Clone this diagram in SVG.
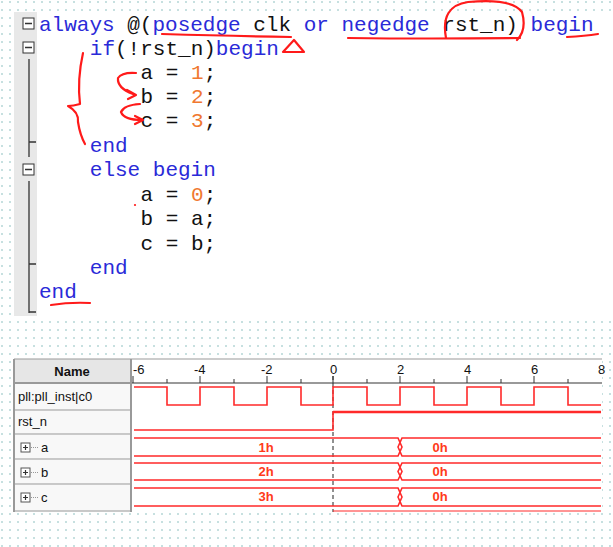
<svg xmlns="http://www.w3.org/2000/svg" width="613" height="547" viewBox="0 0 613 547">
<defs>
<pattern id="dots" width="8" height="8" patternUnits="userSpaceOnUse"><circle cx="2" cy="2" r="0.8" fill="#7fb8b8"/></pattern>
<style>
.code{font-family:"Liberation Mono",monospace;font-size:21px}
.kw{fill:#2a2ad8}.bk{fill:#111}.num{fill:#f07830}
.ann{fill:none;stroke:#ff1a1a;stroke-width:2.2;stroke-linecap:round;stroke-linejoin:round}
.wv{fill:none;stroke:#ff2a2a;stroke-width:1.6}
.lbl{font-family:"Liberation Sans",Arial,sans-serif;font-size:13px;fill:#111}
.val{font-family:"Liberation Sans",Arial,sans-serif;font-size:13px;font-weight:bold;fill:#ff3a1a;text-anchor:middle}
.grid{stroke:#999;stroke-width:1}
.fold{stroke:#333;stroke-width:1.3}
</style>
</defs>
<rect width="613" height="547" fill="#fff"/>
<rect width="613" height="547" fill="url(#dots)"/>
<g id="code">
<rect x="14" y="12" width="599" height="304" fill="#fff"/>
<rect x="14" y="12" width="23" height="304" fill="#e8e8e8"/>
<g fill="#fff" stroke="#333" stroke-width="1">
<rect x="23" y="18" width="11" height="11"/><rect x="23" y="42" width="11" height="11"/><rect x="23" y="164" width="11" height="11"/>
</g>
<g class="fold">
<path d="M25 23.5h7M25 47.5h7M25 169.5h7"/>
<path d="M29 59V157M29 142H36"/>
<path d="M29 181V313M29 264H36M29 312H36"/>
</g>
<text class="code" x="39" y="31" xml:space="preserve"><tspan class="kw">always</tspan><tspan class="bk"> @(</tspan><tspan class="kw">posedge</tspan><tspan class="bk"> clk </tspan><tspan class="kw">or negedge</tspan><tspan class="bk"> rst_n) </tspan><tspan class="kw">begin</tspan></text>
<text class="code" x="89.8" y="55" xml:space="preserve"><tspan class="kw">if</tspan><tspan class="bk">(!rst_n)</tspan><tspan class="kw">begin</tspan></text>
<text class="code bk" x="140.6" y="79">a = <tspan class="num">1</tspan>;</text>
<text class="code bk" x="140.6" y="103">b = <tspan class="num">2</tspan>;</text>
<text class="code bk" x="140.6" y="127">c = <tspan class="num">3</tspan>;</text>
<text class="code kw" x="89.8" y="152">end</text>
<text class="code kw" x="89.8" y="176">else begin</text>
<text class="code bk" x="140.6" y="201">a = <tspan class="num">0</tspan>;</text>
<text class="code bk" x="140.6" y="225">b = a;</text>
<text class="code bk" x="140.6" y="250">c = b;</text>
<text class="code kw" x="89.8" y="274">end</text>
<text class="code kw" x="39" y="298">end</text>
</g>
<g id="annotations">
<path class="ann" d="M162 34 Q230 36 291 37"/>
<path class="ann" d="M348 38 Q430 39 520 38"/>
<path class="ann" d="M567 37 Q585 36 598 34"/>
<path class="ann" d="M446 38 Q440 6 468 2 Q512 -2 522 12 Q527 30 517 40"/>
<path class="ann" d="M283 52 L294 40 L304 52 Z"/>
<path class="ann" d="M83 53 Q77 80 80 104 Q73 106 68 106 Q79 112 78 122 Q80 135 85 144"/>
<path class="ann" d="M136 73 Q122 72 118 78 Q117 88 133 94 M127 90 L136 95 L128 99"/>
<path class="ann" d="M140 104 Q124 105 121 112 Q124 120 142 120 M135 116 L143 120 L135 124"/>
<circle cx="135" cy="205" r="1.1" fill="#ff1a1a"/>
<path class="ann" d="M51 305 Q70 302 90 303"/>
</g>
<g id="waveform">
<rect x="14" y="359" width="588" height="153" fill="#fff"/>
<rect x="14" y="359" width="117" height="153" fill="#f8f8f8"/>
<rect x="14" y="359" width="117" height="24" fill="#e6e6e6"/>
<g class="grid">
<line x1="14" y1="359" x2="602" y2="359"/>
<line x1="14" y1="359" x2="14" y2="512" stroke-width="2"/>
<line x1="131" y1="359" x2="131" y2="512" stroke-width="2"/>
<line x1="14" y1="383" x2="602" y2="383" stroke-width="2"/>
<line x1="14" y1="410" x2="131" y2="410"/><line x1="14" y1="434" x2="131" y2="434"/>
<line x1="14" y1="459" x2="131" y2="459"/><line x1="14" y1="484" x2="131" y2="484"/>
<line x1="14" y1="511" x2="131" y2="511"/>
</g>
<text class="lbl" x="72" y="376" text-anchor="middle" font-weight="bold">Name</text>
<text class="lbl" x="18" y="401" font-size="12.5">pll:pll_inst|c0</text>
<text class="lbl" x="18" y="426">rst_n</text>
<g fill="#fff" stroke="#555"><rect x="21" y="443" width="9" height="9"/><rect x="21" y="468" width="9" height="9"/><rect x="21" y="493" width="9" height="9"/></g>
<g stroke="#333" stroke-width="1.2"><path d="M23 447.5h5M25.5 445v5M23 472.5h5M25.5 470v5M23 497.5h5M25.5 495v5"/></g>
<g stroke="#999" stroke-dasharray="1,1"><path d="M31 447.5h8M31 472.5h8M31 497.5h8"/></g>
<text class="lbl" x="41" y="452">a</text><text class="lbl" x="41" y="477">b</text><text class="lbl" x="41" y="502">c</text>
<g class="lbl" font-size="13">
<text x="133" y="374">-6</text><text x="194" y="374">-4</text><text x="261" y="374">-2</text><text x="330" y="374">0</text><text x="397" y="374">2</text><text x="464" y="374">4</text><text x="531" y="374">6</text><text x="598" y="374">8</text>
</g>
<g stroke="#333" stroke-width="1"><path d="M133 376v7M167 379v4M200 376v7M234 379v4M267 376v7M301 379v4M333 376v7M367 379v4M400 376v7M434 379v4M467 376v7M501 379v4M534 376v7M568 379v4"/></g>
<line x1="333" y1="376" x2="333" y2="512" stroke="#222" stroke-dasharray="4,3"/>
<path class="wv" d="M134 387H167V405H200V387H234V405H267V387H301V405H333V387H367V405H400V387H434V405H467V387H501V405H534V387H568V405H601"/>
<path class="wv" d="M134 430H333V412H601"/>
<line x1="333" y1="412" x2="601" y2="412" stroke="#ff2a2a" stroke-width="2.6"/>
<path class="wv" d="M134 438H398L402 447L398 456H134M601 438H402L398 447L402 456H601"/>
<path class="wv" d="M134 463H398L402 471.5L398 480H134M601 463H402L398 471.5L402 480H601"/>
<path class="wv" d="M134 488H398L402 497L398 506H134M601 488H402L398 497L402 506H601"/>
<line x1="333" y1="511" x2="601" y2="511" stroke="#ff2a2a"/>
<text class="val" x="266" y="452">1h</text><text class="val" x="440" y="452">0h</text>
<text class="val" x="266" y="476">2h</text><text class="val" x="440" y="476">0h</text>
<text class="val" x="266" y="501">3h</text><text class="val" x="440" y="501">0h</text>
</g>
</svg>
